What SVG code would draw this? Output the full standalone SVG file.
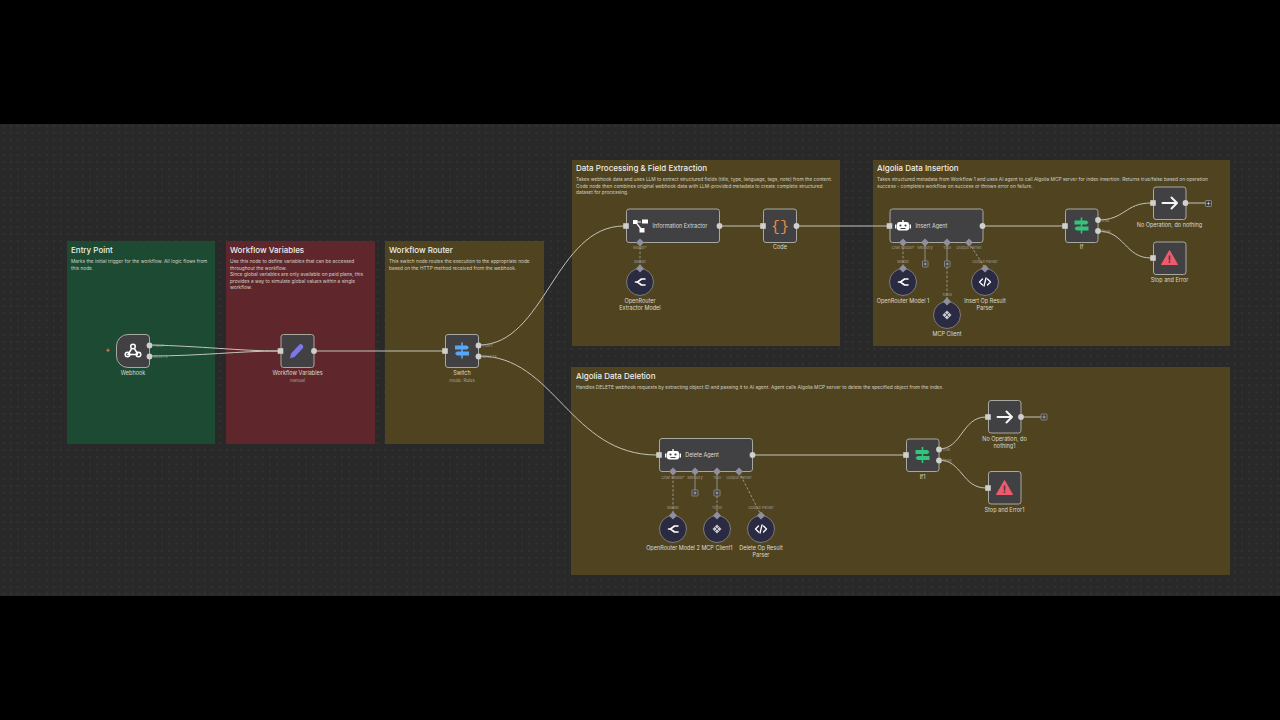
<svg xmlns="http://www.w3.org/2000/svg" width="1280" height="720" viewBox="0 0 1280 720">
<style>
text{font-family:"Inter","Liberation Sans",sans-serif}
.t{font-size:8px;font-weight:500;fill:#eeeee8}
.d{font-size:4.8px;fill:#d4d1c6}
.l{font-size:5.5px;font-weight:400;fill:#dddbd2;text-anchor:middle}
.s{font-size:4.4px;fill:#a8a49a;text-anchor:middle}
.p{font-size:3.9px;fill:#a09e98}
.pc{font-size:3.9px;fill:#a09e98;text-anchor:middle}
.n{fill:#414144;stroke:#a8a8a2;stroke-width:1}
.c{fill:#2a2a42;stroke:#85857f;stroke-width:.9}
.w{fill:none;stroke:#c4c4bc;stroke-width:1}
.a{fill:none;stroke:#a29f94;stroke-width:.9;stroke-dasharray:2.5 1.8}
.h{fill:#cfcfcd}
.i{fill:#8f8fa0}
.b{fill:#3c3c3e;stroke:#a0a0a0;stroke-width:.7}
.g{fill:none;stroke:#fff;stroke-width:1.6;stroke-linecap:round;stroke-linejoin:round}
</style>
<defs>
<pattern id="dots" width="7.2" height="7.2" patternUnits="userSpaceOnUse"><rect x="3" y="3" width="1" height="1" fill="#484848"/></pattern>
<g id="robot"><rect x="-6" y="-4" width="12" height="8.5" rx="2.2" fill="#fff"/><rect x="-8" y="-1.5" width="1.5" height="4" fill="#fff"/><rect x="6.5" y="-1.5" width="1.5" height="4" fill="#fff"/><rect x="-.7" y="-6" width="1.4" height="2" fill="#fff"/><circle cx="-2.5" cy="-.5" r="1.1" fill="#414144"/><circle cx="2.5" cy="-.5" r="1.1" fill="#414144"/><rect x="-2.5" y="2" width="5" height="1" fill="#414144"/></g>
<g id="sign"><path d="M0-8V8" stroke-width="1.6" fill="none" stroke="currentColor"/><path d="M-7-5H5L7-3 5-1H-7ZM7 1H-5L-7 3-5 5H7Z" fill="currentColor"/></g>
<g id="arrow"><path d="M-7 0H7M2-5.5 7.5 0 2 5.5" fill="none" stroke="#f4f4f4" stroke-width="2" stroke-linecap="round" stroke-linejoin="round"/></g>
<g id="warn"><path d="M0-7.5 8 6.5H-8Z" fill="#ef5a6c" stroke="#ef5a6c" stroke-width="1" stroke-linejoin="round"/><rect x="-.8" y="-2.5" width="1.6" height="5" fill="#414144"/><rect x="-.8" y="3.4" width="1.6" height="1.6" fill="#414144"/></g>
<g id="share"><path d="M5-3H1.5L-2.5 0 1.5 3H5" class="g"/><path d="M-4.5 0H-2" class="g"/></g>
<g id="mcp"><path d="M0-4.500 4.500 0 0 4.500-4.500 0Z" fill="#c8c8d0"/><path d="M-2.200-2.200 2.200 2.200M2.200-2.200-2.200 2.200" stroke="#2a2a42" stroke-width=".7"/></g>
<g id="parser"><path d="M-2.500-3-5.500 0-2.500 3M2.500-3 5.500 0 2.500 3M1-4-1 4" class="g" style="stroke-width:1.3"/></g>
<path id="in" d="M-2.800-2.800H2.800V2.800H-2.800Z"/>
</defs>
<rect width="1280" height="720" fill="#000"/>
<rect y="124" width="1280" height="472" fill="#29292a"/>
<rect y="124" width="1280" height="472" fill="url(#dots)"/>
<g id="panels">
<rect x="67" y="241" width="148" height="203" fill="#1c4a33"/>
<rect x="226" y="241" width="149" height="203" fill="#5f272c"/>
<rect x="385" y="241" width="159" height="203" fill="#50431f"/>
<rect x="572" y="160" width="268" height="186" fill="#50431f"/>
<rect x="873" y="160" width="357" height="186" fill="#50431f"/>
<rect x="571" y="367" width="659" height="208" fill="#50431f"/>
<text class="t" x="71" y="253">Entry Point</text>
<text class="d" x="71" y="263"><tspan x="71">Marks the initial trigger for the workflow. All logic flows from</tspan><tspan x="71" dy="6.5">this node.</tspan></text>
<text class="t" x="230" y="253">Workflow Variables</text>
<text class="d" x="230" y="263"><tspan x="230">Use this node to define variables that can be accessed</tspan><tspan x="230" dy="6.5">throughout the workflow.</tspan><tspan x="230" dy="6.5">Since global variables are only available on paid plans, this</tspan><tspan x="230" dy="6.5">provides a way to simulate global values within a single</tspan><tspan x="230" dy="6.5">workflow.</tspan></text>
<text class="t" x="389" y="253">Workflow Router</text>
<text class="d" x="389" y="263"><tspan x="389">This switch node routes the execution to the appropriate node</tspan><tspan x="389" dy="6.5">based on the HTTP method received from the webhook.</tspan></text>
<text class="t" x="576" y="171">Data Processing &amp; Field Extraction</text>
<text class="d" x="576" y="181"><tspan x="576">Takes webhook data and uses LLM to extract structured fields (title, type, language, tags, note) from the content.</tspan><tspan x="576" dy="6.7">Code node then combines original webhook data with LLM-provided metadata to create complete structured</tspan><tspan x="576" dy="6.7">dataset for processing.</tspan></text>
<text class="t" x="877" y="171">Algolia Data Insertion</text>
<text class="d" x="877" y="181"><tspan x="877">Takes structured metadata from Workflow 1 and uses AI agent to call Algolia MCP server for index insertion. Returns true/false based on operation</tspan><tspan x="877" dy="6.7">success - completes workflow on success or throws error on failure.</tspan></text>
<text class="t" x="576" y="379">Algolia Data Deletion</text>
<text class="d" x="576" y="389">Handles DELETE webhook requests by extracting object ID and passing it to AI agent. Agent calls Algolia MCP server to delete the specified object from the index.</text>
</g>
<g id="connectors">
<path class="w" d="M150 345C200 346 240 351 279 351"/>
<path class="w" d="M150 356C200 356 240 351 279 351"/>
<path class="w" d="M314 351H443"/>
<path class="w" d="M479 345C545 345 555 226 624 226"/>
<path class="w" d="M479 356C555 356 570 455 657 455"/>
<path class="w" d="M720 226H761"/>
<path class="w" d="M797 226H888"/>
<path class="w" d="M983 226H1063"/>
<path class="w" d="M1098 220C1125 220 1125 203 1151 203"/>
<path class="w" d="M1098 231C1125 231 1125 258 1151 258"/>
<path class="w" d="M1186 203H1205"/>
<path class="w" d="M753 455H904"/>
<path class="w" d="M939 449C962 449 962 417 986 417"/>
<path class="w" d="M939 460C962 460 962 488 986 488"/>
<path class="w" d="M1021 417H1041"/>
<path class="a" d="M640 243V268"/>
<path class="a" d="M903 243V268"/>
<path class="w" d="M925 243V261" style="stroke:#8f8f8c"/>
<path class="w" d="M947 243V261" style="stroke:#8f8f8c"/>
<path class="a" d="M947 267V301"/>
<path class="a" d="M969 243 985 268"/>
<path class="a" d="M673 472V515"/>
<path class="w" d="M695 472V490" style="stroke:#8f8f8c"/>
<path class="w" d="M717 472V490" style="stroke:#8f8f8c"/>
<path class="a" d="M717 496V515"/>
<path class="a" d="M739 472 761 515"/>
</g>
<g id="node-webhook">
<path class="n" d="M128 334.500H146Q149.500 334.500 149.500 338V364Q149.500 367.500 146 367.500H128A11.500 11.500 0 0 1 116.500 356V346A11.500 11.500 0 0 1 128 334.500Z"/>
<path d="M108 348.500V352M106.300 350.300H109.800" stroke="#d9774b" stroke-width="1.100" fill="none"/>
<g fill="none" stroke="#fff" stroke-width="1.500"><circle cx="133" cy="346.500" r="2.300"/><circle cx="127.500" cy="354.500" r="2.300"/><circle cx="138.500" cy="354.500" r="2.300"/><path d="M131.500 349 128 354.500H138M134.500 349 138 354"/></g>
<circle class="h" cx="149.500" cy="345.500" r="2.900"/><circle class="h" cx="149.500" cy="356.500" r="2.900"/>
<text class="p" x="153.500" y="347">POST</text><text class="p" x="153.500" y="358">DELETE</text>
<text class="l" x="133" y="375">Webhook</text>
</g>
<g id="node-variables">
<rect class="n" x="281" y="334.500" width="33" height="33" rx="2.500"/>
<path d="M290 358.500 291 353.500 299.500 344.500Q301 343.500 302.500 345T303 348L294.500 357Z" fill="#7c78e8"/>
<use href="#in" class="h" x="280.500" y="351"/><circle class="h" cx="314" cy="351" r="2.900"/>
<text class="l" x="297.500" y="375">Workflow Variables</text><text class="s" x="297.500" y="382">manual</text>
</g>
<g id="node-switch">
<rect class="n" x="445.500" y="334.500" width="33" height="33" rx="2.500"/>
<use href="#sign" x="462" y="350.500" color="#58a6f5"/>
<use href="#in" class="h" x="445" y="351"/><circle class="h" cx="478.500" cy="345.500" r="2.900"/><circle class="h" cx="478.500" cy="356.500" r="2.900"/>
<text class="p" x="482.500" y="347">POST</text><text class="p" x="482.500" y="358">DELETE</text>
<text class="l" x="462" y="375">Switch</text><text class="s" x="462" y="382">mode: Rules</text>
</g>
<g id="node-extractor">
<rect class="n" x="626.500" y="209" width="93" height="33.500" rx="2.500"/>
<path d="M635 222H641M637 224 642 230" stroke="#fff" stroke-width="1.200" fill="none"/><rect x="633" y="220" width="4.500" height="4" fill="#fff"/><rect x="642" y="219.500" width="6" height="4" fill="#fff"/><rect x="639.500" y="228" width="5" height="4.500" fill="#fff"/>
<text class="l" x="680" y="227.500">Information Extractor</text>
<use href="#in" class="h" x="626" y="226"/><circle class="h" cx="719.500" cy="226" r="2.900"/>
<use href="#in" class="i" x="640" y="242.500" transform="rotate(45 640 242.500)"/>
<text class="pc" x="640" y="249">Model*</text>
</g>
<g id="node-code">
<rect class="n" x="763.500" y="209" width="33" height="33.500" rx="2.500"/>
<text x="780" y="231" text-anchor="middle" style="font-size:15px;font-weight:400;fill:#f08a3c;font-family:'Liberation Mono',monospace">{}</text>
<use href="#in" class="h" x="763" y="226"/><circle class="h" cx="796.500" cy="226" r="2.900"/>
<text class="l" x="780" y="249">Code</text>
</g>
<g id="node-or-extractor">
<circle class="c" cx="640" cy="282" r="13.500"/><use href="#share" x="640" y="282"/>
<use href="#in" class="i" x="640" y="268.500" transform="rotate(45 640 268.500)"/>
<text class="pc" x="640" y="263">Model</text>
<text class="l" x="640" y="303">OpenRouter</text><text class="l" x="640" y="310">Extractor Model</text>
</g>
<g id="node-insert-agent">
<rect class="n" x="890" y="209" width="93" height="33.500" rx="2.500"/>
<use href="#robot" x="903" y="226"/>
<text class="l" x="931.500" y="227.500">Insert Agent</text>
<use href="#in" class="h" x="889.500" y="226"/><circle class="h" cx="982.500" cy="226" r="2.900"/>
<use href="#in" class="i" x="903" y="242.500" transform="rotate(45 903 242.500)"/><use href="#in" class="i" x="925" y="242.500" transform="rotate(45 925 242.500)"/><use href="#in" class="i" x="947" y="242.500" transform="rotate(45 947 242.500)"/><use href="#in" class="i" x="969" y="242.500" transform="rotate(45 969 242.500)"/>
<text class="pc" x="903" y="249">Chat Model*</text><text class="pc" x="925" y="249">Memory</text><text class="pc" x="947" y="249">Tool</text><text class="pc" x="969" y="249">Output Parser</text>
<rect class="b" x="922.500" y="261" width="5.500" height="6" rx=".8"/><path d="M923.700 264H926.800M925.200 262.400V265.600" stroke="#ddd" stroke-width=".6"/>
<rect class="b" x="944.500" y="261" width="5.500" height="6" rx=".8"/><path d="M945.700 264H948.800M947.200 262.400V265.600" stroke="#ddd" stroke-width=".6"/>
</g>
<g id="node-or1">
<circle class="c" cx="903" cy="282" r="13.500"/><use href="#share" x="903" y="282"/>
<use href="#in" class="i" x="903" y="268.500" transform="rotate(45 903 268.500)"/>
<text class="pc" x="903" y="263">Model</text>
<text class="l" x="903" y="303">OpenRouter Model 1</text>
</g>
<g id="node-mcp">
<circle class="c" cx="947" cy="315" r="13.500"/><use href="#mcp" x="947" y="315"/>
<use href="#in" class="i" x="947" y="301.500" transform="rotate(45 947 301.500)"/>
<text class="pc" x="947" y="296">Tools</text>
<text class="l" x="947" y="336">MCP Client</text>
</g>
<g id="node-insert-parser">
<circle class="c" cx="985" cy="282" r="13.500"/><use href="#parser" x="985" y="282"/>
<use href="#in" class="i" x="985" y="268.500" transform="rotate(45 985 268.500)"/>
<text class="pc" x="985" y="263">Output Parser</text>
<text class="l" x="985" y="303">Insert Op Result</text><text class="l" x="985" y="310">Parser</text>
</g>
<g id="node-if">
<rect class="n" x="1065.500" y="209" width="32.500" height="33.500" rx="2.500"/>
<use href="#sign" x="1081.500" y="225.500" color="#35c47c"/>
<use href="#in" class="h" x="1065" y="226"/><circle class="h" cx="1098" cy="220" r="2.900"/><circle class="h" cx="1098" cy="231" r="2.900"/>
<text class="p" x="1102" y="221.500">true</text><text class="p" x="1102" y="232.500">false</text>
<text class="l" x="1081.500" y="249">If</text>
</g>
<g id="node-noop">
<rect class="n" x="1153.500" y="187" width="32.500" height="32.500" rx="2.500"/>
<use href="#arrow" x="1169.500" y="203"/>
<use href="#in" class="h" x="1153" y="203"/><circle class="h" cx="1185.500" cy="203" r="2.900"/>
<rect class="b" x="1205.500" y="200.500" width="6" height="6" rx=".8"/><path d="M1206.800 203.500H1210.200M1208.500 201.800V205.200" stroke="#ddd" stroke-width=".6"/>
<text class="l" x="1169.500" y="227">No Operation, do nothing</text>
</g>
<g id="node-stop">
<rect class="n" x="1153.500" y="242" width="32.500" height="32.500" rx="2.500"/>
<use href="#warn" x="1169.500" y="258"/>
<use href="#in" class="h" x="1153" y="258"/>
<text class="l" x="1169.500" y="282">Stop and Error</text>
</g>
<g id="node-delete-agent">
<rect class="n" x="659.500" y="438.500" width="93" height="33" rx="2.500"/>
<use href="#robot" x="673" y="455"/>
<text class="l" x="702" y="456.500">Delete Agent</text>
<use href="#in" class="h" x="659" y="455"/><circle class="h" cx="752.500" cy="455" r="2.900"/>
<use href="#in" class="i" x="673" y="471.500" transform="rotate(45 673 471.500)"/><use href="#in" class="i" x="695" y="471.500" transform="rotate(45 695 471.500)"/><use href="#in" class="i" x="717" y="471.500" transform="rotate(45 717 471.500)"/><use href="#in" class="i" x="739" y="471.500" transform="rotate(45 739 471.500)"/>
<text class="pc" x="673" y="479">Chat Model*</text><text class="pc" x="695" y="479">Memory</text><text class="pc" x="717" y="479">Tool</text><text class="pc" x="739" y="479">Output Parser</text>
<rect class="b" x="692" y="490" width="6" height="6" rx=".8"/><path d="M693.300 493H696.700M695 491.300V494.700" stroke="#ddd" stroke-width=".6"/>
<rect class="b" x="714" y="490" width="6" height="6" rx=".8"/><path d="M715.300 493H718.700M717 491.300V494.700" stroke="#ddd" stroke-width=".6"/>
</g>
<g id="node-or2">
<circle class="c" cx="673" cy="529" r="13.500"/><use href="#share" x="673" y="529"/>
<use href="#in" class="i" x="673" y="515.500" transform="rotate(45 673 515.500)"/>
<text class="pc" x="673" y="509">Model</text>
<text class="l" x="673" y="550">OpenRouter Model 2</text>
</g>
<g id="node-mcp1">
<circle class="c" cx="717" cy="529" r="13.500"/><use href="#mcp" x="717" y="529"/>
<use href="#in" class="i" x="717" y="515.500" transform="rotate(45 717 515.500)"/>
<text class="pc" x="717" y="509">Tools</text>
<text class="l" x="717" y="550">MCP Client1</text>
</g>
<g id="node-delete-parser">
<circle class="c" cx="761" cy="529" r="13.500"/><use href="#parser" x="761" y="529"/>
<use href="#in" class="i" x="761" y="515.500" transform="rotate(45 761 515.500)"/>
<text class="pc" x="761" y="509">Output Parser</text>
<text class="l" x="761" y="550">Delete Op Result</text><text class="l" x="761" y="557">Parser</text>
</g>
<g id="node-if1">
<rect class="n" x="906.500" y="439" width="32.500" height="32.500" rx="2.500"/>
<use href="#sign" x="922.500" y="455" color="#35c47c"/>
<use href="#in" class="h" x="906" y="455"/><circle class="h" cx="939" cy="449.500" r="2.900"/><circle class="h" cx="939" cy="460.500" r="2.900"/>
<text class="p" x="943" y="451">true</text><text class="p" x="943" y="462">false</text>
<text class="l" x="922.500" y="479">If1</text>
</g>
<g id="node-noop1">
<rect class="n" x="988.500" y="400.500" width="32.500" height="32.500" rx="2.500"/>
<use href="#arrow" x="1004.500" y="417"/>
<use href="#in" class="h" x="988" y="417"/><circle class="h" cx="1021" cy="417" r="2.900"/>
<rect class="b" x="1041" y="414" width="6" height="6" rx=".8"/><path d="M1042.300 417H1045.700M1044 415.300V418.700" stroke="#ddd" stroke-width=".6"/>
<text class="l" x="1004.500" y="441">No Operation, do</text><text class="l" x="1004.500" y="448">nothing1</text>
</g>
<g id="node-stop1">
<rect class="n" x="988.500" y="471.500" width="32.500" height="32.500" rx="2.500"/>
<use href="#warn" x="1004.500" y="488"/>
<use href="#in" class="h" x="988" y="488"/>
<text class="l" x="1004.500" y="512">Stop and Error1</text>
</g>
</svg>
